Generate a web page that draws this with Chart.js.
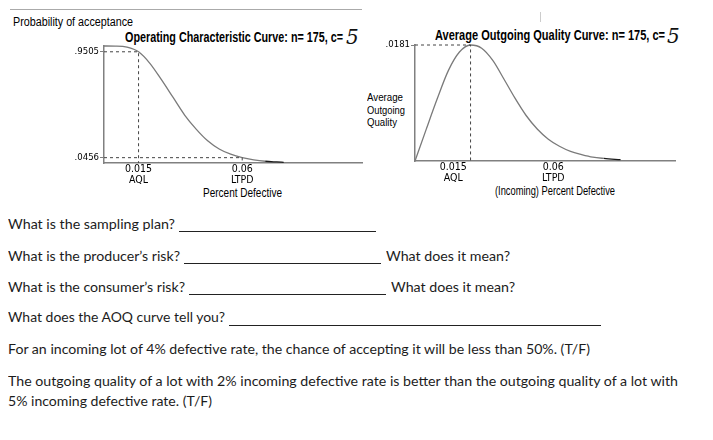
<!DOCTYPE html>
<html>
<head>
<meta charset="utf-8">
<script src="https://cdn.jsdelivr.net/npm/chart.js@4.4.1/dist/chart.umd.min.js"></script>
<style>
  body { margin: 0; width: 713px; height: 440px; background: #fff; position: relative; overflow: hidden;
         font-family: "Liberation Sans", Arial, sans-serif; color: #000; }
  .t { position: absolute; white-space: nowrap; line-height: 1; transform-origin: 0 50%; }
  .q { font-family: Lato, "Open Sans", sans-serif; font-size: 13.5px; color: #1c1c1c; }
  .rule { position: absolute; height: 0; border-top: 1px solid #222; }
  .box { position: absolute; }
  .hand { position: absolute; font-family: "DejaVu Serif", serif; font-style: italic; font-size: 20px; line-height: 1; color: #111; }
</style>
</head>
<body>

<!-- scan edges -->
<div class="box" style="left:10px;top:9px;width:352px;border-top:1px solid #aaa"></div>
<div class="box" style="left:540px;top:12px;height:10px;border-left:1px solid #ccc"></div>

<!-- chart texts -->
<div class="t" data-w="120" style="left:13px;top:16px;font-size:12.5px">Probability of acceptance</div>
<div class="t" data-w="218" style="left:125px;top:30px;font-size:14.5px;font-weight:bold">Operating Characteristic Curve: n= 175, c=</div>
<div class="hand" style="left:346px;top:27px">5</div>
<div class="t" data-w="230" style="left:435px;top:28px;font-size:14.5px;font-weight:bold">Average Outgoing Quality Curve: n= 175, c=</div>
<div class="hand" style="left:667px;top:26px">5</div>
<div class="t" data-w="79" style="left:203px;top:187px;font-size:12px">Percent Defective</div>
<div class="t" data-w="120" style="left:495px;top:185px;font-size:12px">(Incoming) Percent Defective</div>
<div class="t" data-w="36" style="left:367px;top:92px;font-size:11.5px">Average</div>
<div class="t" data-w="38" style="left:367px;top:105px;font-size:11.5px">Outgoing</div>
<div class="t" data-w="30" style="left:367px;top:117px;font-size:11.5px">Quality</div>

<div class="box" style="left:0;top:30px"><canvas id="ocChart" width="370" height="175"></canvas></div>
<div class="box" style="left:365px;top:30px"><canvas id="aoqChart" width="348" height="175"></canvas></div>

<!-- questions -->
<div class="t q" data-w="167" style="left:8px;top:218px">What is the sampling plan?</div>
<div class="rule" style="left:179px;top:231px;width:197px"></div>
<div class="t q" data-w="172" style="left:8px;top:250px">What is the producer’s risk?</div>
<div class="rule" style="left:184px;top:263px;width:197px"></div>
<div class="t q" data-w="124" style="left:386px;top:250px">What does it mean?</div>
<div class="t q" data-w="177" style="left:8px;top:281px">What is the consumer’s risk?</div>
<div class="rule" style="left:189px;top:294px;width:197px"></div>
<div class="t q" data-w="124" style="left:391px;top:281px">What does it mean?</div>
<div class="t q" data-w="217" style="left:8px;top:311px">What does the AOQ curve tell you?</div>
<div class="rule" style="left:229px;top:325px;width:372px"></div>
<div class="t q" data-w="582" style="left:8px;top:343px">For an incoming lot of 4% defective rate, the chance of accepting it will be less than 50%. (T/F)</div>
<div class="t q" data-w="670" style="left:8px;top:375px">The outgoing quality of a lot with 2% incoming defective rate is better than the outgoing quality of a lot with</div>
<div class="t q" data-w="204" style="left:8px;top:395px">5% incoming defective rate. (T/F)</div>

<script>
// OC curve: fraction defective vs probability of acceptance
const ocDefect = [0, 0.005, 0.01, 0.015, 0.02, 0.025, 0.03, 0.035, 0.04, 0.045, 0.05, 0.055, 0.06, 0.065, 0.07, 0.075, 0.078];
const ocAccept = [1.0, 0.999, 0.99, 0.9505, 0.85, 0.71, 0.56, 0.41, 0.29, 0.19, 0.12, 0.075, 0.0456, 0.027, 0.015, 0.009, 0.006];

// AOQ curve: incoming fraction defective vs average outgoing quality
const aoqDefect = [0, 0.005, 0.01, 0.015, 0.02, 0.025, 0.03, 0.035, 0.04, 0.045, 0.05, 0.055, 0.06, 0.065, 0.07, 0.075, 0.08, 0.085, 0.0925];
const aoqValue = [0, 0.0049, 0.0097, 0.0141, 0.0170, 0.0181, 0.0176, 0.0157, 0.0128, 0.0098, 0.0071, 0.0050, 0.0034, 0.0023, 0.0015, 0.0010, 0.0006, 0.0004, 0.0002];

// reference points
const aql = 0.015;
const ltpd = 0.06;
const producerPa = 0.9505;
const consumerPa = 0.0456;
const aoqlDefect = 0.025;
const aoql = 0.0181;

// tick labels
const xTickValues = [0.015, 0.06];
const xTickLabels = [['0.015', 'AQL'], ['0.06', 'LTPD']];
const ocYTickValues = [0.9505, 0.0456];
const ocYTickLabels = ['.9505', '.0456'];
const aoqYTickValues = [0.0181];
const aoqYTickLabels = ['.0181'];

const narrow = '"DejaVu Sans Condensed", "Liberation Sans", sans-serif';
const axisGrey = '#808080';

function toPoints(xs, ys)
{
    return xs.map((x, i) => ({ x: x, y: ys[i] }));
}

function curveSet(points, darkFrom)
{
    return {
        data: points,
        borderColor: '#7a7a7a',
        borderWidth: 1.3,
        pointRadius: 0,
        cubicInterpolationMode: 'monotone',
        clip: false,
        segment: { borderColor: c => c.p0.parsed.x >= darkFrom ? '#1a1a1a' : undefined },
    };
}

function dashSet(points)
{
    return {
        data: points,
        borderColor: '#444',
        borderWidth: 1,
        borderDash: [3, 3],
        pointRadius: 0,
        tension: 0,
        clip: false,
    };
}

function makeOptions(padding, xMax, yMax, yTicks, yLabels, labelOffset)
{
    return {
        responsive: false,
        animation: false,
        events: [],
        layout: { padding: padding },
        plugins: { legend: { display: false }, tooltip: { enabled: false } },
        scales: {
            x: {
                type: 'linear', min: 0, max: xMax,
                afterBuildTicks: s => { s.ticks = xTickValues.map(v => ({ value: v })); },
                afterFit: s => { s.height = 30; s.paddingLeft = 0; s.paddingRight = 0; },
                grid: { display: false, drawTicks: false },
                border: { color: axisGrey, width: 1.5 },
                ticks: {
                    autoSkip: false, maxRotation: 0, padding: 1.5, labelOffset: labelOffset, color: '#000',
                    font: { family: narrow, size: 10.5, lineHeight: '10.5px' },
                    callback: v => xTickLabels[xTickValues.indexOf(v)],
                },
            },
            y: {
                type: 'linear', min: 0, max: yMax,
                afterBuildTicks: s => { s.ticks = yTicks.map(v => ({ value: v })); },
                afterFit: s => { s.width = 36; s.paddingTop = 0; s.paddingBottom = 0; },
                grid: { drawOnChartArea: false, tickLength: 4, color: axisGrey },
                border: { color: axisGrey, width: 1.5 },
                ticks: {
                    autoSkip: false, padding: 1, color: '#000',
                    font: { family: narrow, size: 9.5 },
                    callback: v => yLabels[yTicks.indexOf(v)],
                },
            },
        },
    };
}

new Chart(document.getElementById('ocChart'), {
    type: 'line',
    data: {
        datasets: [
            dashSet([{ x: 0, y: producerPa }, { x: aql, y: producerPa }, { x: aql, y: 0 }]),
            dashSet([{ x: 0, y: consumerPa }, { x: ltpd, y: consumerPa }, { x: ltpd, y: 0 }]),
            curveSet(toPoints(ocDefect, ocAccept), 0.07),
        ]
    },
    options: makeOptions({ left: 68, right: 8, top: 16, bottom: 12 }, 0.112, 1, ocYTickValues, ocYTickLabels, 0),
});

new Chart(document.getElementById('aoqChart'), {
    type: 'line',
    data: {
        datasets: [
            dashSet([{ x: 0, y: aoql }, { x: aoqlDefect, y: aoql }, { x: aoqlDefect, y: 0 }]),
            curveSet(toPoints(aoqDefect, aoqValue), 0.085),
        ]
    },
    options: makeOptions({ left: 14, right: 38, top: 15, bottom: 14 }, 0.117, 0.0181, aoqYTickValues, aoqYTickLabels, 5),
});

// squeeze text runs to the widths seen in the scan
function fitText()
{
    for (const el of document.querySelectorAll('[data-w]')) {
        el.style.transform = '';
        const w = el.getBoundingClientRect().width;
        if (w > 0) {
            el.style.transform = 'scaleX(' + (parseFloat(el.dataset.w) / w) + ')';
        }
    }
}
fitText();
document.fonts.ready.then(fitText);
</script>
</body>
</html>
